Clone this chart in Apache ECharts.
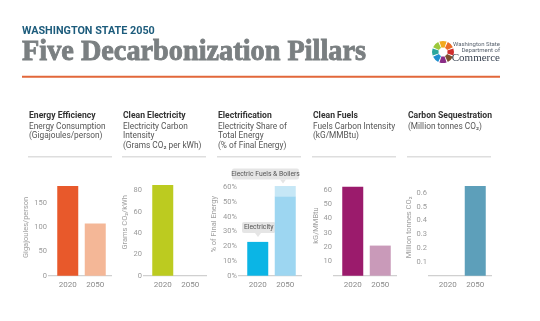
<!DOCTYPE html>
<html><head><meta charset="utf-8">
<script src="https://cdn.jsdelivr.net/npm/echarts@6/dist/echarts.min.js"></script>
<style>html,body{margin:0;padding:0;background:#fff}#c{width:540px;height:321px}</style>
</head><body><div id="c"></div>
<script>
// ---- data ----
const years = ['2020', '2050'];
const efficiency = [186, 108];          // Gigajoules/person
const carbonIntensity = [85, 0];        // Grams CO2 per kWh
const electricityShare = [23, 54];      // % of final energy (electricity)
const electricFuelsShare = [0, 7];      // % of final energy (electric fuels & boilers)
const fuelsIntensity = [62, 21];        // kG/MMBtu
const sequestration = [0, 0.65];        // Million tonnes CO2

const efficiencyTicks = [0, 50, 100, 150];
const intensityTicks = [0, 20, 40, 60, 80];
const shareTicks = [0, 10, 20, 30, 40, 50, 60];
const fuelsTicks = [10, 20, 30, 40, 50, 60];
const seqTicks = [0.1, 0.2, 0.3, 0.4, 0.5, 0.6];

const headers = ['Energy Efficiency', 'Clean Electricity', 'Electrification', 'Clean Fuels', 'Carbon Sequestration'];
const subtitles = [
  ['Energy Consumption', '(Gigajoules/person)'],
  ['Electricity Carbon', 'Intensity', '(Grams CO\u2082 per kWh)'],
  ['Electricity Share of', 'Total Energy', '(% of Final Energy)'],
  ['Fuels Carbon Intensity', '(kG/MMBtu)'],
  ['(Million tonnes CO\u2082)']
];
const axisNames = ['Gigajoules/person', 'Grams CO\u2082/kWh', '% of Final Energy', 'kG/MMBtu', 'Million tonnes CO\u2082'];

// ---- layout ----
const headerX = [29, 123, 218, 313, 408];
const axisStart = [48, 143, 238, 333, 428];
const axisY = 275.7;
const pxPerUnit = [0.4827, 1.066, 1.47, 1.434, 138];
const yMax = [200, 100, 70, 70, 0.7];
const yInterval = [50, 20, 10, 10, 0.1];
const tickSets = [efficiencyTicks, intensityTicks, shareTicks, fuelsTicks, seqTicks];
const nameGaps = [17, 20, 26, 18, 19];

const chart = echarts.init(document.getElementById('c'));
const FONT = 'Roboto';

const grids = [], xAxes = [], yAxes = [];
for (let i = 0; i < 5; i++) {
  const h = yMax[i] * pxPerUnit[i];
  grids.push({ left: axisStart[i] + 6, width: 55, top: axisY - h, height: h });
  xAxes.push({
    type: 'category', gridIndex: i, data: years,
    axisLine: { show: false }, axisTick: { show: false },
    axisLabel: { color: '#8a8a8a', fontSize: 8, fontFamily: FONT, margin: 5 }
  });
  const ticks = tickSets[i];
  const pct = i === 2;
  yAxes.push({
    type: 'value', gridIndex: i, min: 0, max: yMax[i], interval: yInterval[i],
    axisLine: { show: false }, axisTick: { show: false }, splitLine: { show: false },
    axisLabel: {
      color: '#9a9a9a', fontSize: 7.5, fontFamily: FONT, margin: 7,
      formatter: v => ticks.some(t => Math.abs(t - v) < 1e-6) ? (pct ? v + '%' : String(+v.toFixed(2))) : ''
    },
    name: axisNames[i], nameLocation: 'middle', nameGap: nameGaps[i], nameRotate: 90,
    nameTextStyle: { color: '#a0a0a0', fontSize: 7.5, fontFamily: FONT }
  });
}

function colored(vals, colors) {
  return vals.map((v, j) => ({ value: v, itemStyle: { color: colors[j] } }));
}

const series = [
  { type: 'bar', xAxisIndex: 0, yAxisIndex: 0, barWidth: 21, data: colored(efficiency, ['#e8592b', '#f4b797']) },
  { type: 'bar', xAxisIndex: 1, yAxisIndex: 1, barWidth: 21, data: colored(carbonIntensity, ['#bccb20', '#dfe59a']) },
  { type: 'bar', xAxisIndex: 2, yAxisIndex: 2, barWidth: 21, stack: 'e', data: colored(electricityShare, ['#0bb5e5', '#9dd6f1']) },
  { type: 'bar', xAxisIndex: 2, yAxisIndex: 2, barWidth: 21, stack: 'e', data: colored(electricFuelsShare, ['#c6e7f6', '#c6e7f6']) },
  { type: 'bar', xAxisIndex: 3, yAxisIndex: 3, barWidth: 21, data: colored(fuelsIntensity, ['#9b1b6c', '#c99ab9']) },
  { type: 'bar', xAxisIndex: 4, yAxisIndex: 4, barWidth: 21, data: colored(sequestration, ['#5d9fba', '#5d9fba']) }
];

// ---- decorations ----
const graphic = [];
const meas = document.createElement('canvas').getContext('2d');
const titleFont = 'bold 30px "Liberation Serif"';
meas.font = titleFont;
const tW = meas.measureText('Five Decarbonization Pillars').width;
const sx = 344 / tW;

graphic.push({ type: 'text', left: 22, top: 26, style: { text: 'WASHINGTON STATE 2050', font: 'bold 10.8px Roboto', fill: '#1d5c7c' } });
graphic.push({ type: 'text', x: 22, y: 52, scaleX: sx, style: { text: 'Five Decarbonization Pillars', font: titleFont, fill: '#7a7f81', stroke: '#7a7f81', lineWidth: 0.9, verticalAlign: 'middle', textVerticalAlign: 'middle' } });
graphic.push({ type: 'line', shape: { x1: 22, y1: 76.7, x2: 500, y2: 76.7 }, style: { stroke: '#e2673a', lineWidth: 2 } });

// logo
const logoColors = ['#f2a81d', '#ea6a26', '#cf2e2e', '#7b4f2e', '#8a2c86', '#1f8fcf', '#2aa69c', '#9cc83b'];
for (let k = 0; k < 8; k++) {
  const a0 = -Math.PI / 2 + k * Math.PI / 4 - Math.PI / 8 + 0.06;
  const a1 = a0 + Math.PI / 4 - 0.12;
  graphic.push({ type: 'sector', shape: { cx: 443, cy: 52, r: 11, r0: 4.5, startAngle: a0, endAngle: a1 }, style: { fill: logoColors[k] } });
}
graphic.push({ type: 'text', x: 500, y: 44.5, style: { text: 'Washington State', font: '6px Roboto', fill: '#5a6470', textAlign: 'right', textVerticalAlign: 'middle', align: 'right', verticalAlign: 'middle' } });
graphic.push({ type: 'text', x: 500, y: 50.5, style: { text: 'Department of', font: '6px Roboto', fill: '#5a6470', textAlign: 'right', textVerticalAlign: 'middle', align: 'right', verticalAlign: 'middle' } });
graphic.push({ type: 'text', x: 500, y: 58, style: { text: 'Commerce', font: '11px "Liberation Serif"', fill: '#3a4452', textAlign: 'right', textVerticalAlign: 'middle', align: 'right', verticalAlign: 'middle' } });

// panel headers
for (let i = 0; i < 5; i++) {
  graphic.push({ type: 'text', x: headerX[i], y: 116, style: { text: headers[i], font: 'bold 8.6px Roboto', fill: '#333', verticalAlign: 'middle', textVerticalAlign: 'middle' } });
  subtitles[i].forEach((s, j) => {
    graphic.push({ type: 'text', x: headerX[i], y: 126.7 + j * 9.6, style: { text: s, font: '8.3px Roboto', fill: '#555', verticalAlign: 'middle', textVerticalAlign: 'middle' } });
  });
  graphic.push({ type: 'line', shape: { x1: headerX[i] - 1, y1: 156.7, x2: headerX[i] + 83, y2: 156.7 }, style: { stroke: '#dedede', lineWidth: 1.5 } });
  graphic.push({ type: 'line', shape: { x1: axisStart[i], y1: axisY, x2: axisStart[i] + 64, y2: axisY }, style: { stroke: '#d0d0d0', lineWidth: 1.2 } });
}

// callouts
function callout(x, y, w, h, text, pointers) {
  graphic.push({ type: 'rect', shape: { x: x, y: y, width: w, height: h, r: 2 }, style: { fill: '#e5e5e5' } });
  pointers.forEach(p => graphic.push({ type: 'polygon', shape: { points: p }, style: { fill: '#e5e5e5' } }));
  graphic.push({ type: 'text', x: x + w / 2, y: y + h / 2, style: { text: text, font: '6.8px Roboto', fill: '#555', align: 'center', verticalAlign: 'middle', textAlign: 'center', textVerticalAlign: 'middle' } });
}
callout(232, 168.5, 67, 11, 'Electric Fuels & Boilers', [[[280, 179.5], [286, 179.5], [283, 183.5]]]);
callout(242, 222, 33.5, 11, 'Electricity', [[[275.5, 223.5], [275.5, 231.5], [287, 227]], [[255, 233], [261, 233], [258, 237]]]);

chart.setOption({
  animation: false,
  textStyle: { fontFamily: FONT },
  grid: grids, xAxis: xAxes, yAxis: yAxes, series: series, graphic: graphic
});
</script>
</body></html>
